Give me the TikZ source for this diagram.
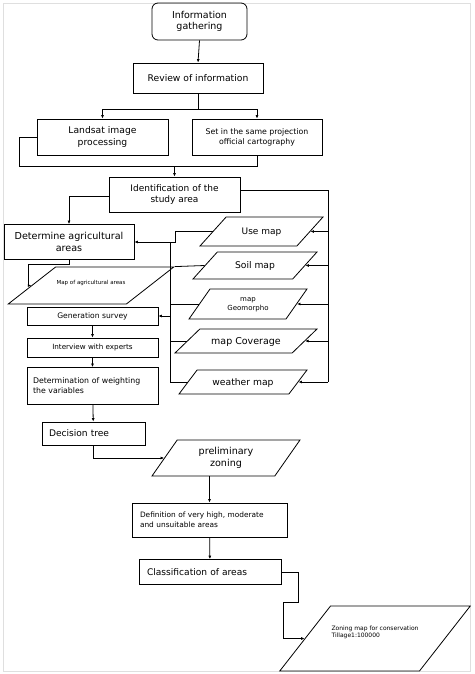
\documentclass[tikz,border=0pt]{standalone}
\usepackage{fontspec}
\setmainfont{DejaVu Sans}
\usetikzlibrary{shapes.geometric,arrows.meta}
\begin{document}
\begin{tikzpicture}
[x=1pt,y=-1pt,
  boxdecorate/.style={shape=rectangle,draw,thick,inner sep=3pt,align=center},%
  mapdecorate/.style={shape=trapezium,draw,thick,inner xsep=1pt,inner ysep=0pt,
    align=center,trapezium stretches body},%
  linedecorate/.style={-,thick},%
  arrowdecorate/.style={-{Latex[length=3.5pt,width=3pt]},thick}]
\useasboundingbox (0,0) rectangle (474,674);
\draw[gray!25] (3,3) rectangle (470,671);
%% boxes
\node (gather) at (199.5,21.5) [boxdecorate,rounded corners=6pt,
  minimum width=95pt,minimum height=37pt,
  font=\fontsize{9.5}{11.5}\selectfont] {Information\\gathering};
\foreach \nodename/\x/\y/\w/\h/\fs/\txt in {
  review/198/78/130/30/9.2/{Review of information},
  landsat/102.5/137/131/36/9.2/{Landsat image\\processing},
  setproj/257/137/130/36/7.8/{Set in the same projection\\official cartography},
  ident/174.5/194.5/131/35/9/{Identification of the\\study area},
  determine/69/242/130/35/9.6/{Determine agricultural\\areas},
  survey/92.5/316/131/18/7.6/{Generation survey},
  interview/92.5/347.5/131/19/7.2/{Interview with experts}} {
  \pgfmathsetmacro\lead{1.25*\fs}
  \node (\nodename) at (\x,\y) [boxdecorate,minimum width=\w pt,
    minimum height=\h pt,font=\fontsize{\fs}{\lead}\selectfont] {\txt};
}
\foreach \nodename/\x/\y/\w/\h/\pad/\fs/\txt in {
  weighting/92.5/386/131/37/6/7.8/{Determination of weighting\\the variables},
  decision/93.5/433.5/103/23/7/9.1/{Decision tree},
  definition/209.5/520/155/34/8/7.4/{Definition of very high, moderate\\and unsuitable areas},
  classif/210/572/142/25/8/9.1/{Classification of areas}} {
  \pgfmathsetmacro\txtwidth{\w-2*\pad}
  \pgfmathsetmacro\lead{1.3*\fs}
  \node (\nodename) at (\x,\y) [boxdecorate,align=left,inner xsep=\pad pt,
    text width=\txtwidth pt,minimum height=\h pt,
    font=\fontsize{\fs}{\lead}\selectfont] {\txt};
}
%% maps
\foreach \nodename/\x/\y/\w/\h/\ang/\fs/\dy/\al/\txt in {
  usemap/261.5/231.5/123/29/48/9/3.3/center/{Use map},
  soilmap/255/265.5/124/27/48/9.2/3.3/center/{Soil map},
  geomap/248/304/118/30/55/7/6.7/center/{map\\Geomorpho},
  covermap/246/341/142/24/44/9.5/3.4/center/{map Coverage},
  weathermap/243/382/128/24/53/9.2/3.3/center/{weather map},
  agri/91/285.5/152/37/38/5.5/-1.5/center/{Map of agricultural areas},
  prelim/226/458/148/36/55/9.6/8.5/center/{preliminary\\zoning},
  zonemap/375/638.5/190/65/52/6/-0.7/left/{Zoning map for conservation\\Tillage1:100000}} {
  \pgfmathtruncatemacro\angright{180-\ang}
  \pgfmathsetmacro\txtht{\h/2+\dy}
  \pgfmathsetmacro\txtdp{\h/2-\dy}
  \pgfmathsetmacro\lead{1.3*\fs}
  \node (\nodename) at (\x,\y) [mapdecorate,minimum width=\w pt,align=\al,
    text height=\txtht pt,text depth=\txtdp pt,
    trapezium left angle=\ang,trapezium right angle=\angright,
    font=\fontsize{\fs}{\lead}\selectfont] {\txt};
}
%% free ends of the connectors
\coordinate (joinA) at (174.5,166);
\coordinate (rbus) at (328,382);
\coordinate (lbus) at (170,242);
\coordinate (lbusend) at (170,382);
\coordinate (usejog) at (175,242);
\coordinate (agrijog) at (28,264);
\coordinate (zonejog) at (283,602);
%% connectors
\draw[arrowdecorate] (gather.south) -- (review.north);
\draw[arrowdecorate] (review.south) -- ++(0,16) -| (landsat.north);
\draw[arrowdecorate] (review.south) -- ++(0,16) -| (setproj.north);
\draw[arrowdecorate] (landsat.west) -- ++(-17,0) |- (joinA) -- (ident.north);
\draw[linedecorate] (setproj.south) |- (joinA);
\draw[arrowdecorate] ([yshift=-2pt]ident.west) -| (determine.north);
\draw[linedecorate] ([yshift=4.5pt]ident.east) -| (rbus);
\draw[linedecorate] (lbus) -- (lbusend);
\draw[arrowdecorate] (usemap.west) -| (usejog) -- (determine.east);
\draw[linedecorate] (soilmap.west) -- (agri.top right corner);
\foreach \nodename in {geomap,covermap,weathermap}
  \draw[linedecorate] (\nodename.west) -- (\nodename.west -| lbus);
\foreach \nodename in {usemap,soilmap,geomap,covermap,weathermap}
  \draw[arrowdecorate] (\nodename.east -| rbus) -- (\nodename.east);
\draw[arrowdecorate] (survey.east -| lbus) -- (survey.east);
\draw[arrowdecorate] (determine.south) |- (agrijog) |- (agri.west);
\path
\foreach \startnode/\endnode in {survey/interview, interview/weighting,
  weighting/decision, definition/classif} {
  (\startnode) edge[arrowdecorate] (\endnode)
};
\draw[arrowdecorate] (decision.south) |- (prelim.west);
\draw[arrowdecorate] (definition.north |- prelim.south) -- (definition.north);
\draw[arrowdecorate] (classif.east) -- ++(17,0) |- (zonejog) |- (zonemap.west);
\end{tikzpicture}
\end{document}
